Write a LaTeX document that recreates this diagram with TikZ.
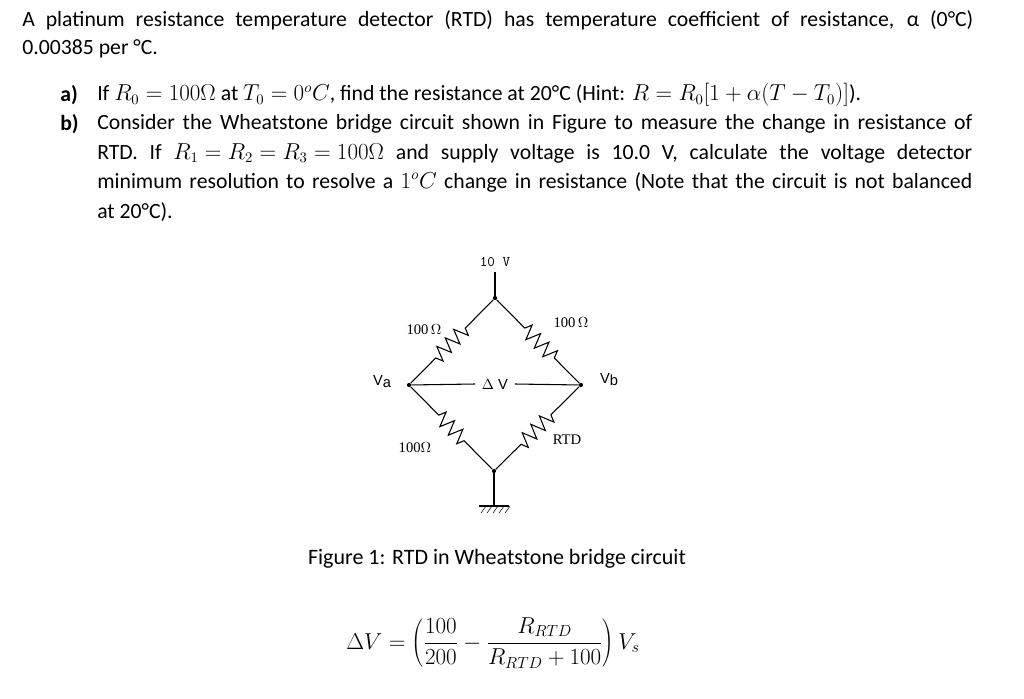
\documentclass[tikz,border=0pt]{standalone}
\usepackage{fontspec}
\setmainfont{Carlito}
\newfontfamily\lbl{Liberation Serif}
\newfontfamily\lsans{Liberation Sans}
\usetikzlibrary{decorations.pathmorphing,patterns}
\begin{document}
\begin{tikzpicture}[x=0.75pt,y=-0.75pt,
  txt/.style={anchor=west,inner sep=0,font=\fontsize{16.3}{19}\selectfont},
  res/.style={decorate,decoration={zigzag,segment length=9,amplitude=5.5,pre length=30,post length=26}},
  lab/.style={inner sep=0,font=\lbl\fontsize{11}{12}\selectfont},
  slab/.style={inner sep=0,font=\lsans\fontsize{11}{12}\selectfont},
  dot/.style={circle,fill,inner sep=1.1pt}]
\useasboundingbox (0,0) rectangle (1024,699);
\node[txt] (l1) at (22,20) {\makebox[951\dimexpr0.75pt][s]{A platinum resistance temperature detector (RTD) has temperature coefficient of resistance, α (0°C)}};
\node[txt] (l2) at (22,49) {0.00385 per °C.};
\node[txt] (a) at (60,95) {\textbf{a)}};
\node[txt] (l3) at (97,95) {If $R_0=100\Omega$ at $T_0=0^oC$, find the resistance at 20°C (Hint: $R=R_0[1+\alpha(T-T_0)]$).};
\node[txt] (b) at (60,124) {\textbf{b)}};
\node[txt] (l4) at (97,124) {\makebox[875\dimexpr0.75pt][s]{Consider the Wheatstone bridge circuit shown in Figure to measure the change in resistance of}};
\node[txt] (l5) at (97,153) {\makebox[875\dimexpr0.75pt][s]{RTD. If \mbox{$R_1=R_2=R_3=100\Omega$} and supply voltage is 10.0 V, calculate the voltage detector}};
\node[txt] (l6) at (97,182) {\makebox[875\dimexpr0.75pt][s]{minimum resolution to resolve a \mbox{$1^oC$} change in resistance (Note that the circuit is not balanced}};
\node[txt] (l7) at (97,212) {at 20°C).};

\node[dot] (t) at (495,298) {};
\node[dot] (va) at (409,385) {};
\node[dot] (vb) at (581,385) {};
\node[dot] (bt) at (494,471) {};
\coordinate (sup) at (495,272);
\coordinate (gnd) at (494,506);
\node[inner sep=0,font=\ttfamily\fontsize{11}{12}\selectfont] (ten) at (495,262) {10 V};
\draw[thick] (sup) -- (t);
\draw[thick,res] (t) -- (va);
\draw[thick,res] (t) -- (vb);
\draw[thick,res] (va) -- (bt);
\draw[thick,res] (vb) -- (bt);
\draw[thick] (bt) -- (gnd);
\draw[thick] (479,506) -- (509,506);
\foreach \i in {0,6,12,18,24}{\draw (481+\i,513) -- (486+\i,506);}
\node[slab,inner xsep=5pt] (dv) at (495,384) {$\Delta$ V};
\draw[thick] (va) -- (dv.west);
\draw[thick] (dv.east) -- (vb);
\node[lab] (r1) at (424,330) {100\,$\Omega$};
\node[lab] (r2) at (571,323) {100\,$\Omega$};
\node[lab] (r3) at (415,448) {100$\Omega$};
\node[lab] (r4) at (567,440) {RTD};
\node[slab] (la) at (382,382) {V\raisebox{-1.5pt}{a}};
\node[slab] (lb) at (609,380) {V\raisebox{-1.5pt}{b}};
\node[inner sep=0,font=\fontsize{16.5}{19}\selectfont] (cap) at (497,559) {Figure 1: RTD in Wheatstone bridge circuit};
\node[inner sep=0,font=\fontsize{17}{20}\selectfont] (eq) at (493,643) {$\displaystyle\Delta V=\left(\frac{100}{200}-\frac{R_{RTD}}{R_{RTD}+100}\right)V_s$};
\end{tikzpicture}
\end{document}
